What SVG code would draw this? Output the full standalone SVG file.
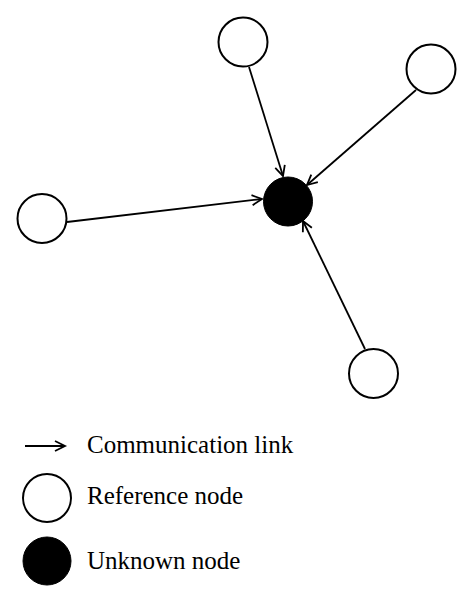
<svg xmlns="http://www.w3.org/2000/svg" width="474" height="604" viewBox="0 0 474 604">
<style>
.ref{fill:#fff;stroke:#000;stroke-width:2}
.unk{fill:#000;stroke:#000;stroke-width:1}
.link{stroke:#000;stroke-width:1.8;fill:none;marker-end:url(#arr)}
.lbl{font-family:"Liberation Serif","Times New Roman",serif;font-size:25px;fill:#000}
</style>
<defs>
<marker id="arr" markerUnits="userSpaceOnUse" markerWidth="14" markerHeight="14" refX="11" refY="6" orient="auto" viewBox="0 0 14 12">
<path d="M1,1 L11,6 L1,11" fill="none" stroke="#000" stroke-width="1.8"/>
</marker>
</defs>
<rect width="474" height="604" fill="#fff"/>
<g id="connectors">
<line class="link" x1="249" y1="67" x2="283" y2="176"/>
<line class="link" x1="416" y1="90" x2="307" y2="185"/>
<line class="link" x1="67" y1="222" x2="262" y2="199"/>
<line class="link" x1="365" y1="349" x2="303" y2="221"/>
</g>
<g id="node-top"><circle class="ref" cx="243" cy="42" r="24.5"/></g>
<g id="node-topright"><circle class="ref" cx="431" cy="69" r="24.5"/></g>
<g id="node-left"><circle class="ref" cx="42" cy="218.5" r="24.5"/></g>
<g id="node-bottom"><circle class="ref" cx="373.5" cy="373.5" r="24.5"/></g>
<g id="node-unknown"><circle class="unk" cx="288" cy="201.5" r="24.5"/></g>
<g id="legend">
<line class="link" x1="25" y1="446" x2="65" y2="446"/>
<text class="lbl" x="87" y="453">Communication link</text>
<circle class="ref" cx="47" cy="498" r="24"/>
<text class="lbl" x="87" y="504">Reference node</text>
<circle class="unk" cx="47" cy="561" r="24"/>
<text class="lbl" x="87" y="569">Unknown node</text>
</g>
</svg>
